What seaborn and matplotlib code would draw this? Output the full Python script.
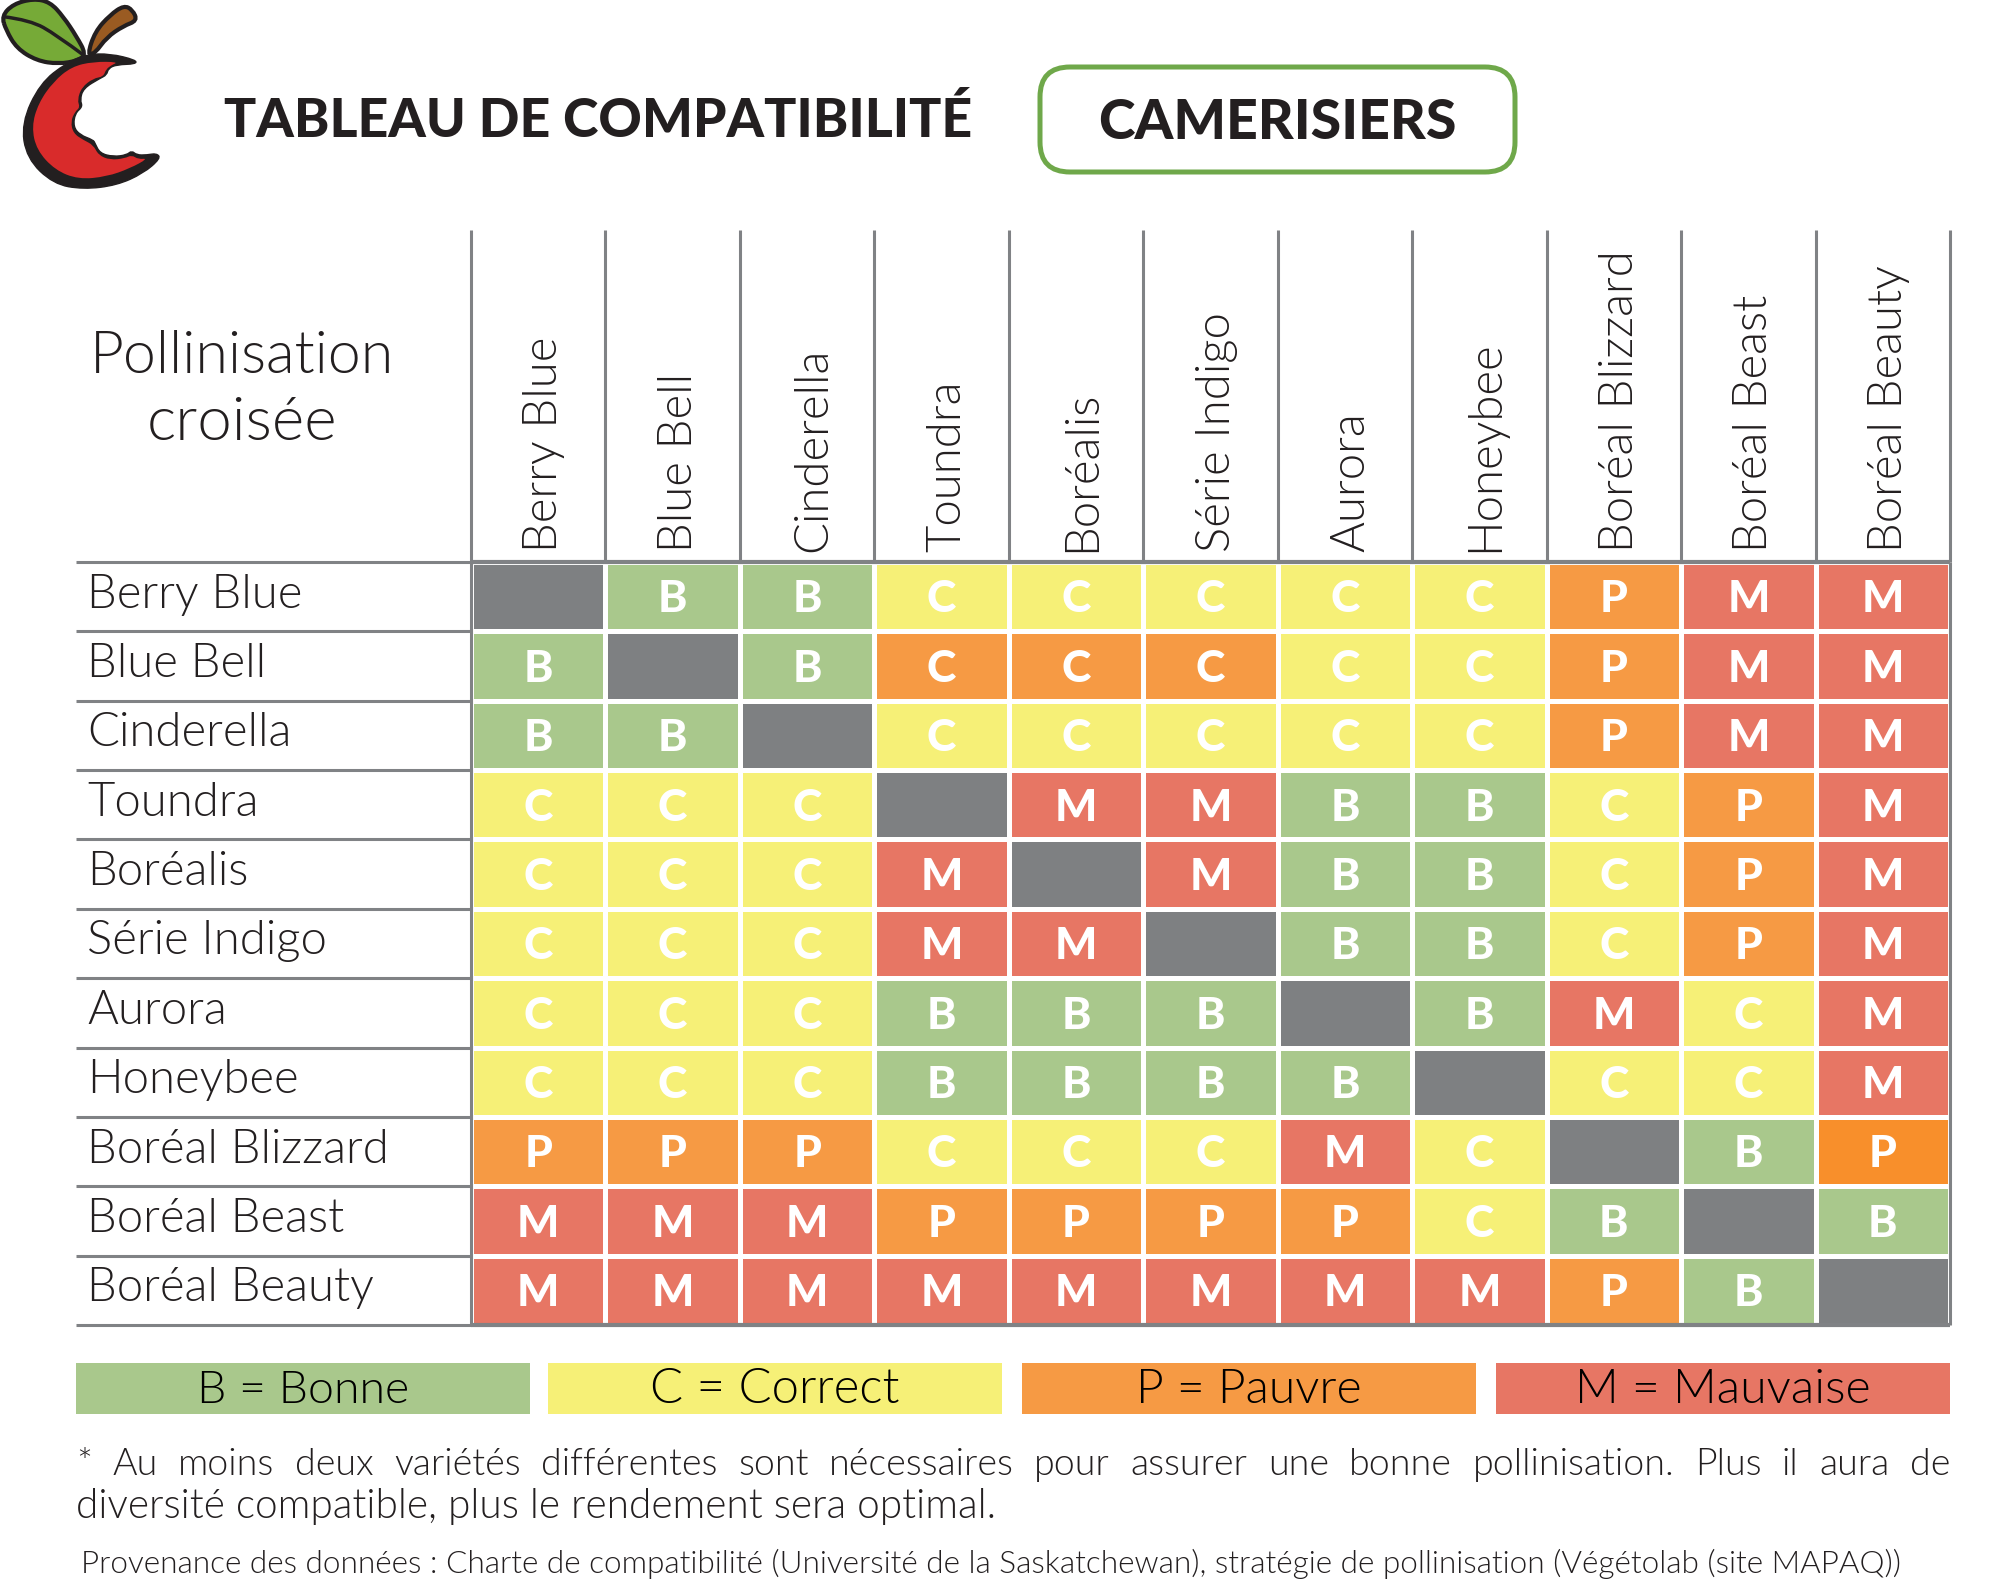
import numpy as np
import matplotlib
matplotlib.use("Agg")
import matplotlib.pyplot as plt
import seaborn as sns
from matplotlib.colors import ListedColormap
from matplotlib.patches import FancyBboxPatch, PathPatch, Rectangle
from matplotlib.path import Path
from matplotlib.transforms import ScaledTranslation

VARIETIES = ["Berry Blue", "Blue Bell", "Cinderella", "Toundra", "Boréalis",
             "Série Indigo", "Aurora", "Honeybee", "Boréal Blizzard",
             "Boréal Beast", "Boréal Beauty"]

RATINGS = [
    ["", "B", "B", "C", "C", "C", "C", "C", "P", "M", "M"],
    ["B", "", "B", "C", "C", "C", "C", "C", "P", "M", "M"],
    ["B", "B", "", "C", "C", "C", "C", "C", "P", "M", "M"],
    ["C", "C", "C", "", "M", "M", "B", "B", "C", "P", "M"],
    ["C", "C", "C", "M", "", "M", "B", "B", "C", "P", "M"],
    ["C", "C", "C", "M", "M", "", "B", "B", "C", "P", "M"],
    ["C", "C", "C", "B", "B", "B", "", "B", "M", "C", "M"],
    ["C", "C", "C", "B", "B", "B", "B", "", "C", "C", "M"],
    ["P", "P", "P", "C", "C", "C", "M", "C", "", "B", "P"],
    ["M", "M", "M", "P", "P", "P", "P", "C", "B", "", "B"],
    ["M", "M", "M", "M", "M", "M", "M", "M", "P", "B", ""],
]

# cells printed in another colour than their letter: (row, col, colour key)
RECOLOURED = [(1, 3, "P"), (1, 4, "P"), (1, 5, "P"), (8, 10, "O")]

COLOURS = {"B": "#A9C88C", "C": "#F6F077", "P": "#F69A44", "M": "#E77664",
           "": "#7E8082", "O": "#F88F2B"}

LEGEND_LABELS = ["B = Bonne", "C = Correct", "P = Pauvre", "M = Mauvaise"]
LEGEND_KEYS = ["B", "C", "P", "M"]

TITLE = "TABLEAU DE COMPATIBILITÉ"
BADGE = "CAMERISIERS"
CORNER = ["Pollinisation", "croisée"]
NOTE_1 = ("* Au moins deux variétés différentes sont nécessaires pour assurer "
          "une bonne pollinisation. Plus il aura de")
NOTE_2 = "diversité compatible, plus le rendement sera optimal."
SOURCE = ("Provenance des données : Charte de compatibilité (Université de la "
          "Saskatchewan), stratégie de pollinisation (Végétolab (site MAPAQ))")

W, H = 2000, 1588
LEFT, RIGHT, TOP, BOTTOM = 471, 1950, 562, 1325
GREY = "#808285"
INK = "#231F20"
FONT = "Lato"
LIGHT = 300

sns.set_theme(style="white")
plt.rcParams["font.family"] = [FONT, "DejaVu Sans"]

fig = plt.figure(figsize=(W / 100, H / 100), dpi=100, facecolor="white")
bg = fig.add_axes([0, 0, 1, 1])
bg.set_xlim(0, W)
bg.set_ylim(H, 0)
bg.axis("off")


def fit(text, width):
    """Rescale a text so that it is width pixels wide."""
    box = text.get_window_extent(fig.canvas.get_renderer())
    text.set_fontsize(text.get_fontsize() * width / box.width)
    return text


def nudge(text, dx=0, dy=0):
    """Move a tick label by some pixels, y upwards."""
    text.set_transform(text.get_transform()
                       + ScaledTranslation(dx / 100, dy / 100, fig.dpi_scale_trans))


def smooth(points, closed=True):
    """Quadratic curve through the midpoints of a 600 px sketch of the logo."""
    pts = np.array(points, dtype=float) / 3
    if not closed:
        verts = [pts[0]]
        codes = [Path.MOVETO]
        for a, b in zip(pts[1:-1], pts[2:]):
            verts += [a, (a + b) / 2]
            codes += [Path.CURVE3, Path.CURVE3]
        verts[-1] = pts[-1]
        return Path(verts, codes)
    mids = (pts + np.roll(pts, -1, axis=0)) / 2
    verts = [mids[-1]]
    codes = [Path.MOVETO]
    for p, m in zip(pts, mids):
        verts += [p, m]
        codes += [Path.CURVE3, Path.CURVE3]
    return Path(verts, codes)


def draw_logo(ax):
    leaf = [(5, 48), (40, 12), (100, -4), (150, 6), (190, 50), (230, 110),
            (258, 162), (235, 182), (175, 192), (110, 182), (50, 145), (18, 90)]
    stem = [(262, 165), (285, 95), (330, 45), (372, 16), (398, 30), (412, 62),
            (370, 78), (320, 112), (285, 160)]
    outer = [(408, 180), (330, 161), (260, 163), (200, 188), (120, 250),
             (64, 370), (80, 475), (160, 552), (250, 568), (350, 556),
             (430, 520), (482, 475), (470, 460), (440, 465), (410, 465),
             (395, 452), (380, 465), (340, 470), (300, 460), (285, 430),
             (280, 420), (240, 405), (220, 380), (225, 340), (248, 320),
             (240, 300), (250, 265), (300, 235), (320, 225), (325, 205),
             (350, 194), (408, 192)]
    inner = [(355, 186), (280, 185), (215, 200), (160, 245), (115, 310),
             (95, 380), (110, 450), (165, 510), (235, 538), (320, 530),
             (390, 505), (445, 475), (415, 478), (395, 465), (375, 475),
             (330, 480), (295, 465), (280, 435), (250, 420), (220, 400),
             (212, 365), (225, 335), (240, 322), (232, 300), (245, 262),
             (280, 235), (310, 230), (318, 208), (335, 195)]
    vein = [(10, 50), (90, 60), (170, 105), (250, 165)]
    ax.add_patch(PathPatch(smooth(stem), fc="#9A5B22", ec=INK, lw=3))
    ax.add_patch(PathPatch(smooth(leaf), fc="#76AA37", ec=INK, lw=3))
    ax.add_patch(PathPatch(smooth(vein, closed=False), fc="none", ec=INK, lw=2.5))
    ax.add_patch(PathPatch(smooth(outer), fc=INK, ec=INK, lw=1))
    ax.add_patch(PathPatch(smooth(inner), fc="#D92B2B", ec="none"))


# matrix
keys = [[cell for cell in row] for row in RATINGS]
for r, c, key in RECOLOURED:
    keys[r][c] = key
order = list(COLOURS)
codes = np.array([[order.index(k) for k in row] for row in keys])

ax = fig.add_axes([LEFT / W, 1 - BOTTOM / H, (RIGHT - LEFT) / W, (BOTTOM - TOP) / H])
sns.heatmap(codes, ax=ax, cmap=ListedColormap([COLOURS[k] for k in order]),
            vmin=-0.5, vmax=len(order) - 0.5, cbar=False, square=False,
            annot=np.array(RATINGS), fmt="", linewidths=3.4, linecolor="white",
            annot_kws={"color": "white", "fontsize": 32, "fontweight": "black"},
            xticklabels=VARIETIES, yticklabels=VARIETIES)
for letter in ax.texts:
    x, y = letter.get_position()
    letter.set_position((x, y + 0.04))
ax.xaxis.tick_top()
ax.tick_params(axis="both", length=0)
ax.tick_params(axis="x", pad=7)
ax.tick_params(axis="y", pad=(LEFT - 87) * 0.72)
for label in ax.get_xticklabels():
    label.set(rotation=90, ha="center", va="bottom", fontsize=34,
              fontweight=LIGHT, color=INK)
    nudge(label, dx=6)
for label in ax.get_yticklabels():
    label.set(rotation=0, ha="left", va="center", fontsize=34,
              fontweight=LIGHT, color=INK)
    nudge(label, dy=2)

# grey rules run past the cells, into the label areas
n = len(VARIETIES)
ax.vlines(np.arange(n + 1), (TOP - 230) / -(BOTTOM - TOP) * n, 0, color=GREY,
          lw=2.2, clip_on=False, zorder=5)
ax.hlines(np.arange(n + 1), (76 - LEFT) / (RIGHT - LEFT) * n, 0, color=GREY,
          lw=2.2, clip_on=False, zorder=5)
ax.hlines([0, n], 0, n, color=GREY, lw=3, clip_on=False, zorder=5)
ax.vlines([0, n], 0, n, color=GREY, lw=2.2, clip_on=False, zorder=5)

# header
draw_logo(bg)
title = bg.text(224, 137, TITLE, fontsize=44, fontweight="black", color=INK)
fit(title, 748)
bg.add_patch(FancyBboxPatch((1040, 67), 475, 105,
                            boxstyle="round,pad=0,rounding_size=30",
                            fc="white", ec="#6FA84A", lw=3.6,
                            mutation_aspect=1))
badge = bg.text(1277, 139, BADGE, fontsize=44, fontweight="black", color=INK,
                ha="center")
fit(badge, 358)
for line, base, width in zip(CORNER, [373, 440], [303, 190]):
    fit(bg.text(242, base, line, fontsize=40, fontweight=LIGHT, color=INK,
                ha="center"), width)

# legend
lefts = [76, 548, 1022, 1496]
text_widths = [212, 250, 226, 296]
for x0, key, label, width in zip(lefts, LEGEND_KEYS, LEGEND_LABELS, text_widths):
    bg.add_patch(Rectangle((x0, 1363), 454, 51, fc=COLOURS[key], ec="none"))
    fit(bg.text(x0 + 227, 1403, label, fontsize=34, fontweight=LIGHT,
                color="black", ha="center"), width)

# footnote, first line justified on the table width
words = NOTE_1.split(" ")
note_size = 27
renderer = fig.canvas.get_renderer()
pieces = [bg.text(0, 1475, w, fontsize=note_size, fontweight=LIGHT, color=INK)
          for w in words]
widths = [p.get_window_extent(renderer).width for p in pieces]
gap = (RIGHT - 76 - sum(widths)) / (len(words) - 1)
x = 76
for piece, width in zip(pieces, widths):
    piece.set_x(x)
    x += width + gap
fit(bg.text(76, 1518, NOTE_2, fontsize=note_size, fontweight=LIGHT, color=INK), 922)
fit(bg.text(81, 1573, SOURCE, fontsize=21, fontweight=LIGHT, color=INK), 1821)

fig.savefig("out.png", dpi=100, facecolor="white")
